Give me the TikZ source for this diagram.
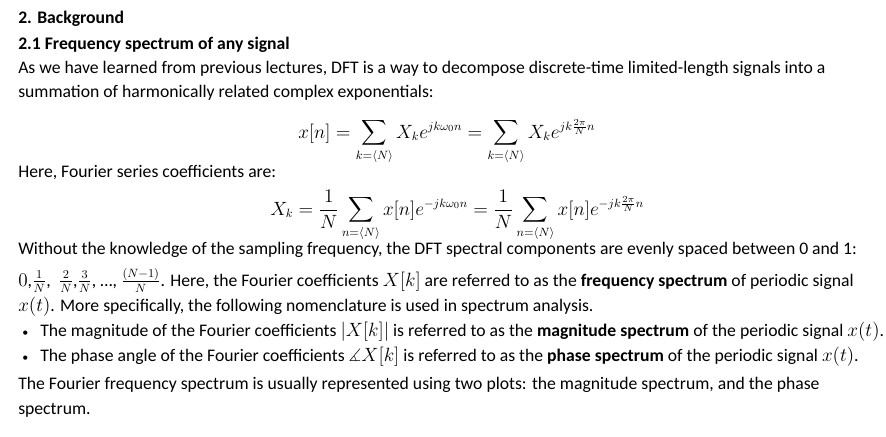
\documentclass[tikz,border=0pt]{standalone}
\usepackage{amsmath,amssymb}
\usepackage{fontspec}
\setmainfont{Carlito}
\begin{document}
\begin{tikzpicture}[x=0.75pt,y=-0.75pt,
  txt/.style={anchor=base west,inner sep=0pt,font=\fontsize{13.25pt}{15pt}\selectfont}]
\useasboundingbox (0,0) rectangle (886,436);
\node[txt] (l1) at (18,23) {\textbf{2. Background}};
\node[txt] (l2) at (18,49) {\textbf{2.1 Frequency spectrum of any signal}};
\node[txt] (l3) at (18,73) {As we have learned from previous lectures, DFT is a way to decompose discrete-time limited-length signals into a};
\node[txt] (l4) at (18,97) {summation of harmonically related complex exponentials:};
\node[txt] (e1) at (298,138) {$\displaystyle x[n]=\sum_{k=\langle N\rangle}X_k e^{jk\omega_0 n}=\sum_{k=\langle N\rangle}X_k e^{jk\frac{2\pi}{N}n}$};
\node[txt] (l5) at (18,177) {Here, Fourier series coefficients are:};
\node[txt] (e2) at (270,215) {$\displaystyle X_k=\frac{1}{N}\sum_{n=\langle N\rangle}x[n]e^{-jk\omega_0 n}=\frac{1}{N}\sum_{n=\langle N\rangle}x[n]e^{-jk\frac{2\pi}{N}n}$};
\node[txt] (l6) at (18,254) {Without the knowledge of the sampling frequency, the DFT spectral components are evenly spaced between 0 and 1:};
\node[txt] (l7) at (18,286) {$0$,$\frac{1}{N}$, \ $\frac{2}{N}$,$\frac{3}{N}$, \ldots, $\frac{(N-1)}{N}$. Here, the Fourier coefficients $X[k]$ are referred to as the \textbf{frequency spectrum} of periodic signal};
\node[txt] (l8) at (18,311) {$x(t)$. More specifically, the following nomenclature is used in spectrum analysis.};
\node[txt,font=\small] (b1) at (22,336) {•};
\node[txt] (l9) at (40,336) {The magnitude of the Fourier coefficients $\lvert X[k]\rvert$ is referred to as the \textbf{magnitude spectrum} of the periodic signal $x(t)$.};
\node[txt,font=\small] (b2) at (22,361) {•};
\node[txt] (l10) at (40,361) {The phase angle of the Fourier coefficients $\measuredangle X[k]$ is referred to as the \textbf{phase spectrum} of the periodic signal $x(t)$.};
\node[txt] (l11) at (18,389) {The Fourier frequency spectrum is usually represented using two plots: the magnitude spectrum, and the phase};
\node[txt] (l12) at (18,414) {spectrum.};
\end{tikzpicture}
\end{document}
